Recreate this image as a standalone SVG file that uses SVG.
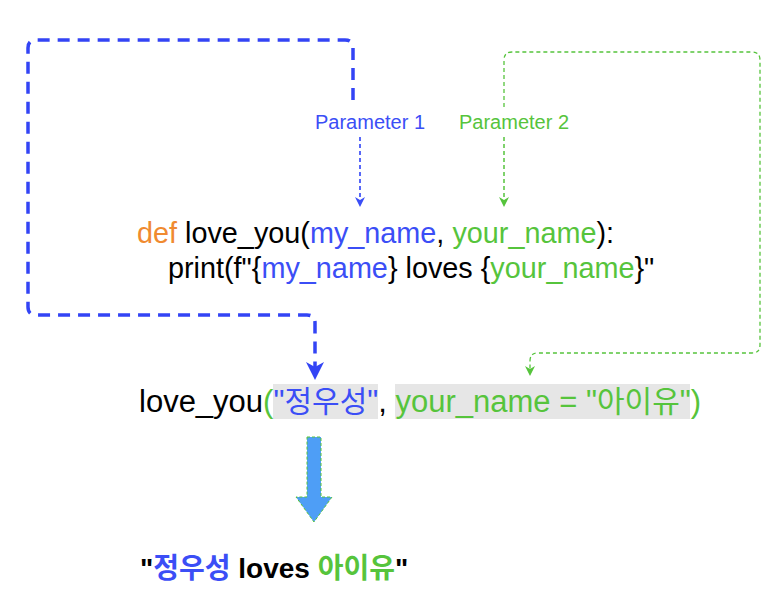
<svg xmlns="http://www.w3.org/2000/svg" width="784" height="600" viewBox="0 0 784 600">
<style>
text{font-family:"Liberation Sans",Arial,"Noto Sans CJK KR",sans-serif;}
.k{font-family:"Noto Sans CJK KR","Liberation Sans",sans-serif;}
.bl{fill:#3b4ef6;}
.gr{fill:#56c43c;}
.or{fill:#f08a30;}
.bk{fill:#000;}
.code{font-size:28.8px;}
.call{font-size:31px;}
.callk{font-size:30px;}
.res{font-size:28px;font-weight:bold;}
.resk{font-size:28px;}
.lbl{font-size:20px;}
.hl{fill:#e6e6e6;}
</style>
<g id="connectors">
<path d="M353,100 L353,48 Q353,40 345,40 L36,40 Q28,40 28,48 L28,307 Q28,315 36,315 L307,315 Q315,315 315,323 L315,368" fill="none" stroke="#3344f5" stroke-width="3.5" stroke-dasharray="12 8"/>
<path d="M306,362 L315,380 L324,362 L315,367 Z" fill="#3344f5"/>
<path d="M360,137 L360,200" fill="none" stroke="#3b4ef6" stroke-width="1.7" stroke-dasharray="4 3"/>
<path d="M355,197 L360,207 L365,197 L360,200 Z" fill="#3b4ef6"/>
<path d="M504,107 L504,60 Q504,52 512,52 L752,52 Q760,52 760,60 L760,345 Q760,353 752,353 L538,353 Q530,353 530,361 L530,369" fill="none" stroke="#56c43c" stroke-width="1.3" stroke-dasharray="4 3"/>
<path d="M525,366 L530,376 L535,366 L530,369 Z" fill="#56c43c"/>
<path d="M504,137 L504,200" fill="none" stroke="#56c43c" stroke-width="1.5" stroke-dasharray="4 3"/>
<path d="M499,197 L504,207 L509,197 L504,200 Z" fill="#56c43c"/>
<path d="M307,437 L321,437 L321,497 L332,497 L314,522 L296,497 L307,497 Z" fill="#4e9ef6" stroke="#56c43c" stroke-width="1" stroke-dasharray="3 2"/>
</g>
<g id="param1">
<text class="lbl bl" x="315" y="129">Parameter 1</text>
</g>
<g id="param2">
<text class="lbl gr" x="459" y="129">Parameter 2</text>
</g>
<g id="definition">
<text class="code" x="137" y="243"><tspan class="or">def</tspan><tspan class="bk"> love_you(</tspan><tspan class="bl">my_name</tspan><tspan class="bk">, </tspan><tspan class="gr">your_name</tspan><tspan class="bk">):</tspan></text>
<text class="code" x="168" y="278"><tspan class="bk">print(f"{</tspan><tspan class="bl">my_name</tspan><tspan class="bk">} loves {</tspan><tspan class="gr">your_name</tspan><tspan class="bk">}"</tspan></text>
</g>
<g id="call">
<rect class="hl" x="273" y="384" width="105" height="35"/>
<rect class="hl" x="395" y="384" width="295" height="35"/>
<text class="call" x="139" y="412"><tspan class="bk">love_you</tspan><tspan class="gr">(</tspan><tspan class="bl">"</tspan><tspan class="bl k callk">정우성</tspan><tspan class="bl">"</tspan><tspan class="bk">, </tspan><tspan class="gr">your_name = "</tspan><tspan class="gr k callk">아이유</tspan><tspan class="gr">")</tspan></text>
</g>
<g id="result">
<text class="res" x="140" y="578"><tspan class="bk">"</tspan><tspan class="bl k resk">정우성</tspan><tspan class="bk"> loves </tspan><tspan class="gr k resk">아이유</tspan><tspan class="bk">"</tspan></text>
</g>
</svg>
